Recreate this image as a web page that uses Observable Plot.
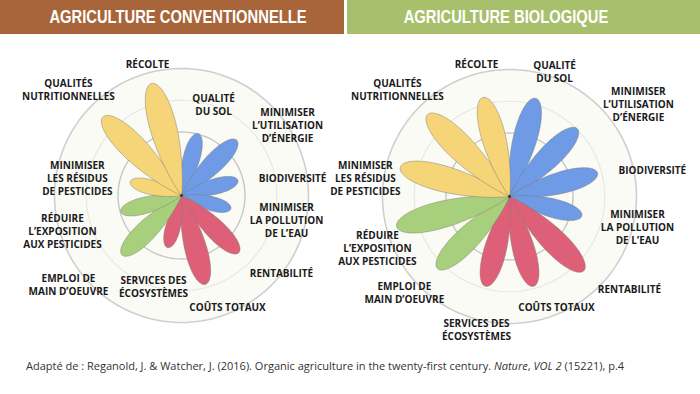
<!DOCTYPE html>
<html><head><meta charset="utf-8">
<script src="https://cdn.jsdelivr.net/npm/d3@7"></script>
<script src="https://cdn.jsdelivr.net/npm/@observablehq/plot@0.6"></script>
<style>
body{margin:0;background:#fff;width:700px;height:394px;position:relative;overflow:hidden;font-family:"Open Sans",sans-serif}
.band{position:absolute;top:0;height:34px;}
.band span{position:absolute;top:50%;white-space:nowrap;color:#fff;font-family:"Liberation Sans",Arial,sans-serif;font-weight:bold;font-size:18px;transform:translate(-50%,-50%) scaleX(0.82)}
#bandL{left:0;width:344px;background:#a9653a}
#bandR{left:347px;width:353px;background:#a8c06c}
.chart{position:absolute;top:34px;width:350px;height:310px}
.chart svg{overflow:visible;background:transparent}
#chartL{left:0}
#chartR{left:350px}
#caption{position:absolute;left:26px;top:358px;font-size:11px;color:#333;white-space:nowrap}
</style></head>
<body>
<div class="band" id="bandL"><span style="left:178px">AGRICULTURE CONVENTIONNELLE</span></div>
<div class="band" id="bandR"><span style="left:159px">AGRICULTURE BIOLOGIQUE</span></div>
<div class="chart" id="chartL"></div>
<div class="chart" id="chartR"></div>
<div id="caption">Adapté de : Reganold, J. &amp; Watcher, J. (2016). Organic agriculture in the twenty-first century. <i>Nature</i>, <i>VOL 2</i> (15221), p.4</div>
<script>
// ---- data ----
const categories = [
  "QUALITÉ\nDU SOL",
  "MINIMISER\nL’UTILISATION\nD’ÉNERGIE",
  "BIODIVERSITÉ",
  "MINIMISER\nLA POLLUTION\nDE L’EAU",
  "RENTABILITÉ",
  "COÛTS TOTAUX",
  "SERVICES DES\nÉCOSYSTÈMES",
  "EMPLOI DE\nMAIN D’OEUVRE",
  "RÉDUIRE\nL’EXPOSITION\nAUX PESTICIDES",
  "MINIMISER\nLES RÉSIDUS\nDE PESTICIDES",
  "QUALITÉS\nNUTRITIONNELLES",
  "RÉCOLTE"
];
const groups = ["environnement","environnement","environnement","environnement",
  "économie","économie","économie","social","social","production","production","production"];
const conventionnelle = [2.02, 2.46, 1.84, 1.61, 2.55, 2.90, 1.70, 2.65, 1.98, 1.67, 3.50, 3.65];
const biologique      = [3.20, 3.02, 2.87, 2.36, 3.31, 2.93, 2.93, 3.21, 3.68, 3.56, 3.65, 3.23];
const ringLevels = [2, 3, 4];
const groupNames = ["environnement","économie","social","production"];
const groupColors = ["#6e9ae6","#dd6078","#a8d07c","#f6d478"];

// ---- layout (label anchors in value units, relative to centre) ----
const labelsConv = [[1.01,2.87],[3.34,2.24],[3.50,0.57],[3.31,-0.76],[3.15,-2.43],[1.45,-3.50],
  [-0.88,-2.87],[-3.56,-2.80],[-3.75,-1.10],[-3.28,0.57],[-3.56,3.34],[-1.07,4.16]];
const labelsBio = [[1.42,3.95],[4.06,2.93],[4.50,0.85],[4.03,-0.94],[3.78,-2.90],[1.48,-3.46],
  [-1.04,-4.19],[-3.31,-3.01],[-4.16,-1.61],[-4.54,0.60],[-3.53,3.37],[-1.04,4.19]];

const EXP = 0.4;
const NORM = d3.max(d3.range(0, Math.PI, 0.01), s => Math.sin(s) * Math.pow((1 - Math.cos(s)) / 2, EXP));

function petal(value, angleDeg, id, group) {
  const th = angleDeg * Math.PI / 180;
  const ux = Math.sin(th), uy = Math.cos(th);
  const px = Math.cos(th), py = -Math.sin(th);
  const W = 0.19 * value + 0.142;
  const n = 60, pts = [];
  for (let i = 0; i <= 2 * n; i++) {
    const s = Math.PI * i / n;
    const a = value * (1 - Math.cos(s)) / 2;
    const h = (W / 2) / NORM * Math.sin(s) * Math.pow((1 - Math.cos(s)) / 2, EXP);
    pts.push({x: a * ux + h * px, y: a * uy + h * py, id, group});
  }
  return pts;
}

function chart(values, labelXY, xDomain, yDomain) {
  const petals = values.flatMap((v, i) => petal(v, 15 + 30 * i, i, groups[i]));
  const rings = ringLevels.flatMap(r => d3.range(0, 360, 3).map(a => ({
    x: r * Math.sin(a * Math.PI / 180), y: r * Math.cos(a * Math.PI / 180), r})));
  const labels = categories.map((c, i) => ({text: c, x: labelXY[i][0], y: labelXY[i][1]}));
  return Plot.plot({
    width: 350, height: 310, margin: 0,
    style: {background: "transparent", overflow: "visible"},
    x: {domain: xDomain, axis: null},
    y: {domain: yDomain, axis: null},
    color: {domain: groupNames, range: groupColors},
    marks: [
      Plot.line(rings.filter(d => d.r === 4), {x: "x", y: "y", curve: "linear-closed", fill: "#fbfbf6", stroke: "#cfcfcf", strokeWidth: 1.6}),
      Plot.line(rings.filter(d => d.r === 3), {x: "x", y: "y", curve: "linear-closed", stroke: "#e9e9e3", strokeWidth: 1.2}),
      Plot.line(rings.filter(d => d.r === 2), {x: "x", y: "y", curve: "linear-closed", stroke: "#c6c6c6", strokeWidth: 1.4}),
      Plot.line(petals, {x: "x", y: "y", z: "id", fill: "group", curve: "linear-closed", stroke: "#7d7d70", strokeWidth: 0.6, strokeOpacity: 0.8}),
      Plot.dot([{x: 0, y: 0}], {x: "x", y: "y", r: 1.4, fill: "#333"}),
      Plot.text(labels, {x: "x", y: "y", text: "text", fontSize: 10, fontWeight: 700, fontFamily: "Open Sans", lineHeight: 1.3, fill: "#1a1a1a", textAnchor: "middle", lineAnchor: "middle"})
    ]
  });
}

const U = 31.75;
document.getElementById("chartL").append(
  chart(conventionnelle, labelsConv, [-181 / U, (350 - 181) / U], [-(310 - 161) / U, 161 / U]));
document.getElementById("chartR").append(
  chart(biologique, labelsBio, [-159 / U, (350 - 159) / U], [-(310 - 162) / U, 162 / U]));
</script>
</body></html>
